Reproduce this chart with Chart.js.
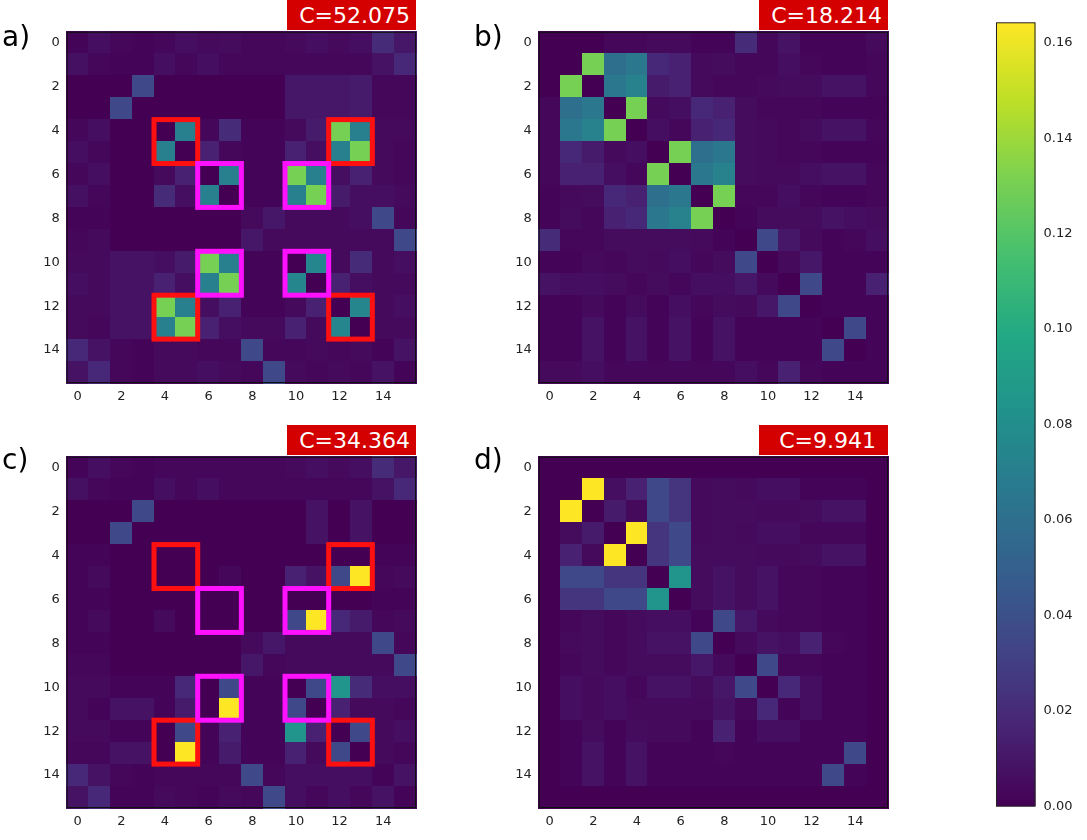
<!DOCTYPE html>
<html>
<head>
<meta charset="utf-8">
<script src="https://cdn.jsdelivr.net/npm/chart.js@4.4.1/dist/chart.umd.min.js"></script>
<style>
  body { margin: 0; background: #fff; font-family: "DejaVu Sans", sans-serif; }
  #wrap { position: relative; width: 1087px; height: 840px; }
  canvas { position: absolute; }
  .lbl { position: absolute; font-size: 28px; color: #000; }
  .cbox { position: absolute; background: #d40000; color: #fff; font-size: 22px;
          width: 129px; height: 30px; line-height: 31px; text-align: right; box-sizing: border-box; padding-right: 6px; }
</style>
</head>
<body>
<div id="wrap">
  <canvas id="pa" width="400" height="384" style="left:20px;top:21px"></canvas>
  <canvas id="pb" width="400" height="384" style="left:492px;top:21px"></canvas>
  <canvas id="pc" width="400" height="384" style="left:20px;top:446px"></canvas>
  <canvas id="pd" width="400" height="384" style="left:492px;top:446px"></canvas>
  <canvas id="cb" width="90" height="805" style="left:996px;top:12px"></canvas>
  <div class="lbl" style="left:2px;top:20px">a)</div>
  <div class="lbl" style="left:474px;top:20px">b)</div>
  <div class="lbl" style="left:2px;top:443px">c)</div>
  <div class="lbl" style="left:474px;top:443px">d)</div>
  <div class="cbox" style="left:287px;top:0px">C=52.075</div>
  <div class="cbox" style="left:759px;top:0px">C=18.214</div>
  <div class="cbox" style="left:287px;top:425px">C=34.364</div>
  <div class="cbox" style="left:759px;top:425px;padding-right:12px">C=9.941</div>
</div>
<script>
const vmax = 0.1642;
const tickVals = [0, 2, 4, 6, 8, 10, 12, 14];
const cbTicks = [0, 0.02, 0.04, 0.06, 0.08, 0.10, 0.12, 0.14, 0.16];

const matA = [
  [.002,.006,.003,.002,.003,.006,.004,.005,.003,.003,.004,.006,.004,.006,.020,.010],
  [.007,.003,.002,.002,.006,.003,.006,.003,.003,.003,.003,.003,.003,.003,.008,.018],
  [0,0,0,.035,0,0,0,0,0,0,.010,.010,.010,.012,.003,.003],
  [0,0,.035,0,0,0,0,0,0,0,.010,.010,.010,.012,.003,.003],
  [.003,.006,0,0,0,.070,.003,.020,.002,.002,.004,.012,.130,.070,.004,.004],
  [.006,.003,0,0,.070,0,.015,.003,.002,.002,.015,.006,.070,.130,.004,.003],
  [.003,.006,0,0,.004,.015,0,.070,.002,.002,.130,.070,.006,.015,.004,.003],
  [.007,.003,0,0,.020,.006,.070,0,.002,.002,.070,.130,.012,.006,.006,.004],
  [.002,.002,0,0,0,0,0,0,.004,.010,.004,.004,.004,.006,.035,.003],
  [.003,.004,0,0,0,0,0,0,.010,.004,.004,.004,.004,.004,.004,.035],
  [.004,.004,.008,.008,.006,.012,.130,.070,.002,.002,0,.075,.004,.020,.004,.006],
  [.006,.004,.008,.008,.015,.006,.070,.130,.002,.002,.075,0,.015,.006,.004,.004],
  [.004,.004,.008,.008,.130,.070,.006,.015,.002,.002,.004,.015,0,.075,.004,.006],
  [.004,.003,.008,.008,.070,.130,.015,.006,.004,.004,.015,.004,.075,0,.004,.004],
  [.018,.008,.003,.002,.004,.004,.003,.003,.035,.003,.003,.004,.003,.004,.002,.008],
  [.008,.018,.003,.002,.004,.004,.006,.004,.003,.035,.004,.003,.004,.003,.008,.002]
];
const matB = [
  [0,0,0,.003,.003,.004,.004,.002,.002,.020,.003,.008,.002,.002,.002,.004],
  [0,0,.130,.060,.065,.018,.015,.004,.005,.003,.003,.006,.003,.002,.002,.003],
  [0,.130,0,.065,.072,.012,.015,.004,.003,.003,.004,.005,.005,.008,.008,.003],
  [.003,.060,.065,0,.130,.004,.006,.018,.015,.005,.003,.003,.003,.002,.002,.002],
  [.003,.065,.072,.130,0,.006,.003,.015,.018,.005,.004,.003,.005,.008,.008,.003],
  [.003,.018,.012,.004,.006,0,.130,.060,.065,.005,.004,.003,.003,.002,.002,.002],
  [.003,.015,.015,.006,.003,.130,0,.065,.072,.005,.004,.004,.006,.008,.008,.003],
  [.002,.004,.005,.018,.015,.060,.065,0,.130,.003,.003,.006,.003,.002,.002,.003],
  [.002,.005,.003,.015,.018,.065,.072,.130,0,.002,.005,.005,.005,.008,.006,.005],
  [.020,.003,.003,.005,.005,.005,.005,.004,.002,0,.035,.010,.004,.002,.003,.006],
  [.002,.002,.004,.003,.005,.004,.006,.003,.005,.035,0,.004,.010,.002,.002,.002],
  [.008,.006,.006,.005,.003,.005,.003,.006,.006,.010,.004,0,.035,.002,.002,.015],
  [.002,.002,.004,.002,.005,.002,.006,.003,.005,.004,.010,.035,0,.002,.002,.002],
  [.002,.002,.008,.002,.008,.002,.008,.002,.008,.002,.002,.002,.002,0,.035,.002],
  [.002,.002,.008,.002,.008,.002,.008,.002,.008,.002,.002,.002,.002,.035,0,.002],
  [.004,.004,.006,.003,.003,.003,.003,.003,.003,.006,.003,.015,.003,.002,.002,.002]
];
const matC = [
  [.002,.006,.003,.002,.003,.003,.003,.003,.003,.003,.004,.006,.004,.006,.020,.010],
  [.007,.003,.002,.002,.006,.003,.006,.003,.003,.003,.003,.003,.003,.003,.008,.018],
  [0,0,0,.035,0,0,0,0,0,0,0,.008,0,.008,0,0],
  [0,0,.035,0,0,0,0,0,0,0,0,.008,0,.008,0,0],
  [.002,.002,0,0,0,0,0,0,0,0,0,0,0,0,.002,.002],
  [.002,.004,0,0,0,0,0,.003,0,0,.015,.008,.035,.165,.003,.004],
  [.002,.002,0,0,0,0,0,0,0,0,0,0,0,0,.002,.002],
  [.002,.004,0,0,.004,0,0,0,0,0,.035,.165,.018,.012,.003,.004],
  [.002,.002,0,0,0,0,0,0,.004,.010,.004,.004,.004,.004,.035,.003],
  [.003,.003,0,0,0,0,0,0,.010,.003,.004,.004,.004,.004,.004,.035],
  [.004,.004,.002,.002,.002,.018,0,.035,.002,.002,0,.035,.085,.020,.006,.006],
  [.004,.002,.008,.008,.002,.012,0,.165,.002,.002,.035,0,.015,.004,.004,.003],
  [.004,.004,.002,.002,0,.035,.002,.015,.002,.002,.085,.015,0,.035,.004,.006],
  [.003,.003,.008,.008,0,.165,.002,.012,.002,.002,.015,.004,.035,0,.004,.003],
  [.018,.008,.003,.002,.003,.003,.003,.003,.035,.003,.006,.006,.006,.006,.002,.008],
  [.008,.018,.002,.002,.004,.003,.002,.004,.003,.035,.006,.003,.006,.003,.008,.002]
];
const matD = [
  [0,0,0,0,0,0,0,0,0,0,0,0,0,0,0,0],
  [0,0,.165,.006,.015,.035,.025,.004,.005,.004,.006,.006,.002,.002,.002,0],
  [0,.165,0,.012,.004,.035,.025,.004,.005,.005,.004,.004,.005,.008,.008,0],
  [0,.005,.012,0,.165,.025,.035,.004,.005,.004,.006,.006,.003,.003,.003,0],
  [0,.015,.004,.165,0,.025,.035,.005,.005,.005,.004,.004,.005,.008,.008,0],
  [0,.035,.035,.025,.025,0,.085,.005,.008,.005,.008,.003,.003,.002,.002,0],
  [0,.025,.025,.035,.035,.085,0,.005,.008,.005,.008,.003,.003,.002,.002,0],
  [0,.003,.005,.003,.005,.006,.006,.002,.035,.010,.004,.003,.003,.002,.002,0],
  [0,.004,.005,.003,.005,.008,.008,.035,0,.004,.008,.006,.015,.003,.002,0],
  [0,.003,.005,.003,.005,.005,.005,.010,.004,0,.035,.003,.003,.002,.002,0],
  [0,.006,.004,.006,.003,.008,.008,.005,.010,.035,0,.018,.006,.002,.002,0],
  [0,.006,.004,.006,.004,.004,.004,.004,.008,.003,.018,.002,.006,.002,.002,0],
  [0,.002,.005,.002,.005,.004,.004,.002,.015,.002,.006,.006,.002,.002,.002,0],
  [0,.002,.008,.002,.008,.002,.002,.002,.003,.002,.002,.002,.002,.002,.035,0],
  [0,.002,.008,.002,.008,.002,.002,.002,.002,.002,.002,.002,.002,.035,.002,0],
  [0,0,0,0,0,0,0,0,0,0,0,0,0,0,0,0]
];

// boxes: [row0, col0] of a 2x2 block
const redBoxes = [[4,4],[4,12],[12,4],[12,12]];
const pinkBoxes = [[6,6],[6,10],[10,6],[10,10]];

const viridis = ["#440154","#482475","#414487","#355f8d","#2a788e","#21918c","#22a884","#44bf70","#7ad151","#bddf26","#fde725"];
function hex(h) { return [1,3,5].map(i => parseInt(h.substr(i,2),16)); }
function cmap(v) {
  let t = Math.max(0, Math.min(1, v / vmax)) * 10;
  let i = Math.min(9, Math.floor(t)), f = t - i;
  let a = hex(viridis[i]), b = hex(viridis[i+1]);
  return "rgb(" + a.map((x,k) => Math.round(x + (b[k]-x)*f)).join(",") + ")";
}

const heatPlugin = {
  id: "heat",
  beforeDatasetsDraw(chart) {
    const ctx = chart.ctx, xs = chart.scales.x, ys = chart.scales.y, a = chart.chartArea;
    ctx.save();
    chart.data.datasets[0].data.forEach(p => {
      const x0 = xs.getPixelForValue(p.x - 0.5), x1 = xs.getPixelForValue(p.x + 0.5);
      const y0 = ys.getPixelForValue(p.y - 0.5), y1 = ys.getPixelForValue(p.y + 0.5);
      ctx.fillStyle = cmap(p.v);
      ctx.fillRect(Math.floor(x0), Math.floor(y0), Math.ceil(x1 - x0) + 1, Math.ceil(y1 - y0) + 1);
    });
    ctx.strokeStyle = "#111"; ctx.lineWidth = 1;
    ctx.strokeRect(a.left + 0.5, a.top + 0.5, a.right - a.left - 1, a.bottom - a.top - 1);
    const boxes = chart.options.plugins.heat.boxes || [];
    ctx.lineWidth = 5;
    boxes.forEach(([r, c, col]) => {
      const x0 = xs.getPixelForValue(c - 0.5), x1 = xs.getPixelForValue(c + 1.5);
      const y0 = ys.getPixelForValue(r - 0.5), y1 = ys.getPixelForValue(r + 1.5);
      ctx.strokeStyle = col;
      ctx.strokeRect(x0, y0, x1 - x0, y1 - y0);
    });
    ctx.restore();
  }
};

function panel(id, mat, boxes) {
  const pts = [];
  mat.forEach((row, r) => row.forEach((v, c) => pts.push({ x: c, y: r, v: v })));
  const tickFont = { family: "DejaVu Sans", size: 13 };
  new Chart(document.getElementById(id), {
    type: "scatter",
    data: { datasets: [{ data: pts, pointRadius: 0, pointHoverRadius: 0 }] },
    plugins: [heatPlugin],
    options: {
      responsive: false, animation: false, events: [],
      layout: { padding: { top: 0, right: 4, left: 0, bottom: 0 } },
      plugins: { legend: { display: false }, tooltip: { enabled: false }, heat: { boxes: boxes } },
      scales: {
        x: {
          type: "linear", min: -0.5, max: 15.5,
          afterBuildTicks: s => { s.ticks = tickVals.map(v => ({ value: v })); },
          afterFit: s => { s.height = 22; },
          ticks: { color: "#222", font: tickFont, padding: 2 },
          grid: { display: false, drawTicks: true, tickLength: 4, tickColor: "#222" },
          border: { color: "#111", width: 1 }
        },
        y: {
          type: "linear", min: -0.5, max: 15.5, reverse: true,
          afterBuildTicks: s => { s.ticks = tickVals.map(v => ({ value: v })); },
          afterFit: s => { s.width = 46.7; },
          ticks: { color: "#222", font: tickFont, padding: 3 },
          grid: { display: false, drawTicks: true, tickLength: 4, tickColor: "#222" },
          border: { color: "#111", width: 1 }
        }
      }
    }
  });
}

const boxesAC = redBoxes.map(b => [b[0], b[1], "#ff1010"]).concat(pinkBoxes.map(b => [b[0], b[1], "#ff10ff"]));
panel("pa", matA, boxesAC);
panel("pb", matB, []);
panel("pc", matC, boxesAC);
panel("pd", matD, []);

// colorbar
const cbPlugin = {
  id: "cbar",
  beforeDatasetsDraw(chart) {
    const ctx = chart.ctx, a = chart.chartArea, ys = chart.scales.y;
    const g = ctx.createLinearGradient(0, ys.getPixelForValue(0), 0, ys.getPixelForValue(vmax));
    viridis.forEach((c, i) => g.addColorStop(i / 10, c));
    ctx.fillStyle = g;
    ctx.fillRect(a.left, a.top, a.right - a.left, a.bottom - a.top);
    ctx.strokeStyle = "#222"; ctx.lineWidth = 1;
    ctx.strokeRect(a.left + 0.5, a.top, a.right - a.left - 1, a.bottom - a.top);
  }
};
new Chart(document.getElementById("cb"), {
  type: "scatter",
  data: { datasets: [{ data: [], pointRadius: 0 }] },
  plugins: [cbPlugin],
  options: {
    responsive: false, animation: false, events: [],
    layout: { padding: { top: 5, left: 0, right: 0, bottom: 0 } },
    plugins: { legend: { display: false }, tooltip: { enabled: false } },
    scales: {
      x: { display: false, min: 0, max: 1 },
      y: {
        position: "right", min: 0, max: vmax,
        afterBuildTicks: s => { s.ticks = cbTicks.map(v => ({ value: v })); },
        afterFit: s => { s.width = 50.5; },
        ticks: { color: "#222", font: { family: "DejaVu Sans", size: 13 }, padding: 3, callback: v => v.toFixed(2) },
        grid: { display: false, drawTicks: true, tickLength: 5, tickColor: "#222" },
        border: { display: false }
      }
    }
  }
});
</script>
</body>
</html>
